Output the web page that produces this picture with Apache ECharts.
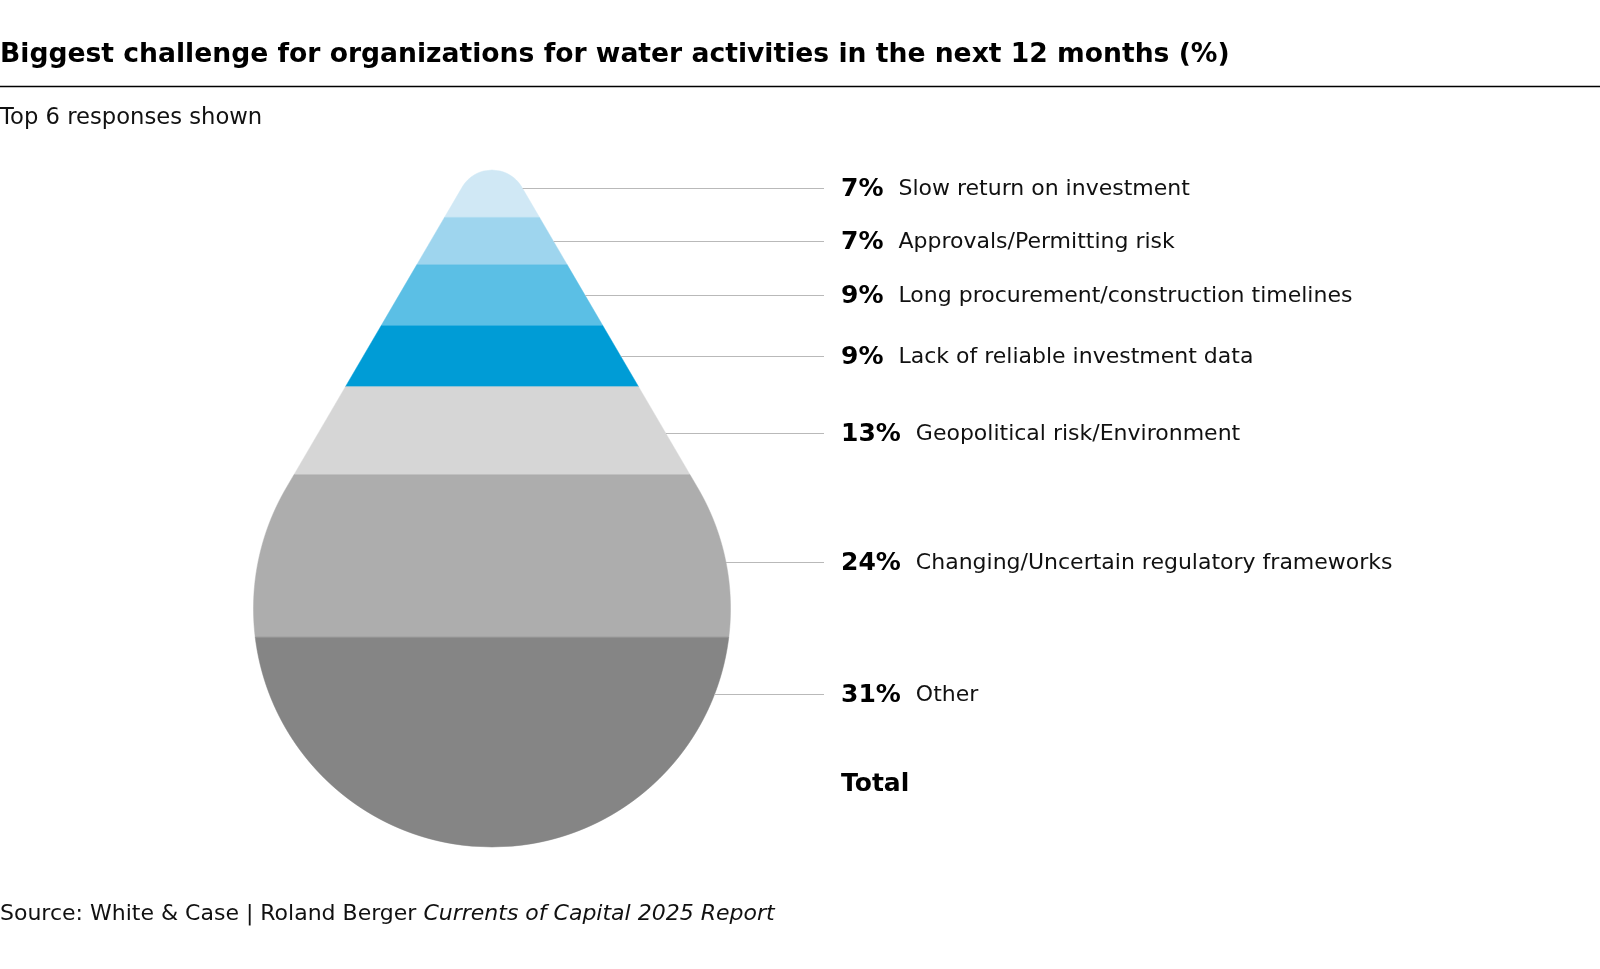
<!DOCTYPE html>
<html>
<head>
<meta charset="utf-8">
<title>Biggest challenge for organizations for water activities</title>
<script src="https://cdn.jsdelivr.net/npm/echarts@6/dist/echarts.min.js"></script>
<style>
  html, body { margin: 0; padding: 0; background: #fff; }
  #chart { width: 1600px; height: 969px; }
</style>
</head>
<body>
<div id="chart"></div>
<script>
// data
var categories = ['Slow return on investment', 'Approvals/Permitting risk', 'Long procurement/construction timelines',
  'Lack of reliable investment data', 'Geopolitical risk/Environment', 'Changing/Uncertain regulatory frameworks', 'Other'];
var shares = [7, 7, 9, 9, 13, 24, 31];

// styles / layout
var bandColors = ['#d0e8f5', '#9ed5ee', '#5bbfe5', '#009cd6', '#d6d6d6', '#adadad', '#858585'];
var leaderAt = [0.38, 0.5, 0.5, 0.5, 0.53, 0.54, 0.27]; // where the leader line sits inside each band
var DROP_X = 492;     // centre of the drop
var LINE_END = 824;
var LABEL_X = 841;
var FONT = '"DejaVu Sans", "Liberation Sans", sans-serif';

// cumulative bands
var bands = [];
var acc = 0;
shares.forEach(function (v, i) {
  bands.push([acc, acc + v, i]);
  acc += v;
});

var myChart = echarts.init(document.getElementById('chart'));

function dropGeom(top, bottom) {
  var H = bottom - top;
  var R = 0.3523 * H;
  var cy = bottom - R;
  var tanT = 0.585;
  var sinT = tanT / Math.sqrt(1 + tanT * tanT);
  var apex = cy - R / sinT;
  var rt = (top - apex) / (1 / sinT - 1);
  var ys = apex + rt / sinT;
  return function (y) {
    if (y <= ys - rt * sinT) {
      var d = y - ys;
      return Math.sqrt(Math.max(0, rt * rt - d * d));
    }
    if (y <= cy - R * sinT) {
      return (y - apex) * tanT;
    }
    var d2 = y - cy;
    return Math.sqrt(Math.max(0, R * R - d2 * d2));
  };
}

function renderBand(params, api) {
  var s = api.value(0), e = api.value(1), i = api.value(2);
  var top = api.coord([0, 0])[1];
  var bottom = api.coord([0, 100])[1];
  var cx = api.coord([DROP_X, 0])[0];
  var halfW = dropGeom(top, bottom);
  var y1 = api.coord([0, s])[1];
  var y2 = api.coord([0, e])[1];

  var left = [], right = [];
  for (var y = y1; y < y2; y += 1) {
    var w = halfW(y);
    left.push([cx - w, y]);
    right.push([cx + w, y]);
  }
  var wb = halfW(y2);
  left.push([cx - wb, y2]);
  right.push([cx + wb, y2]);
  var pts = left.concat(right.reverse());

  var ly = Math.round(y1 + (y2 - y1) * leaderAt[i]) + 0.5;
  var lx = cx + halfW(ly);

  return {
    type: 'group',
    children: [
      {
        type: 'polygon',
        shape: { points: pts },
        style: { fill: bandColors[i], stroke: bandColors[i], lineWidth: 0.5 }
      },
      {
        type: 'line',
        shape: { x1: lx, y1: ly, x2: LINE_END, y2: ly },
        style: { stroke: '#b9b9b9', lineWidth: 1 }
      },
      {
        type: 'text',
        style: {
          x: LABEL_X,
          y: ly + 1,
          verticalAlign: 'middle',
          text: '{p|' + shares[i] + '%}{d|' + categories[i] + '}',
          rich: {
            p: { fontFamily: FONT, fontWeight: 'bold', fontSize: 25, fill: '#000', padding: [0, 15, 0, 0] },
            d: { fontFamily: FONT, fontSize: 22, fill: '#111' }
          }
        }
      }
    ]
  };
}

var option = {
  animation: false,
  title: [
    {
      text: 'Biggest challenge for organizations for water activities in the next 12 months (%)',
      left: 0, top: 42, padding: 0,
      textStyle: { fontFamily: FONT, fontWeight: 'bold', fontSize: 26.6, color: '#000' }
    },
    {
      text: 'Top 6 responses shown',
      left: 0, top: 107, padding: 0,
      textStyle: { fontFamily: FONT, fontWeight: 'normal', fontSize: 22.7, color: '#111' }
    },
    {
      text: 'Source: White & Case | Roland Berger {i|Currents of Capital 2025 Report}',
      left: 0, top: 903, padding: 0,
      textStyle: {
        fontFamily: FONT, fontWeight: 'normal', fontSize: 22, color: '#111',
        rich: { i: { fontFamily: FONT, fontStyle: 'italic', fontSize: 22, color: '#111' } }
      }
    }
  ],
  graphic: [
    {
      type: 'line',
      shape: { x1: 0, y1: 86.5, x2: 1600, y2: 86.5 },
      style: { stroke: '#000', lineWidth: 1.5 }
    },
    {
      type: 'text',
      left: LABEL_X, top: 772,
      style: { text: 'Total', fontFamily: FONT, fontWeight: 'bold', fontSize: 25, fill: '#000' }
    }
  ],
  grid: { left: 0, right: 0, top: 170, bottom: 122 },
  xAxis: { type: 'value', min: 0, max: 1600, show: false },
  yAxis: { type: 'value', min: 0, max: 100, inverse: true, show: false },
  series: [
    {
      type: 'custom',
      renderItem: renderBand,
      data: bands,
      silent: true
    }
  ]
};

myChart.setOption(option);
</script>
</body>
</html>
